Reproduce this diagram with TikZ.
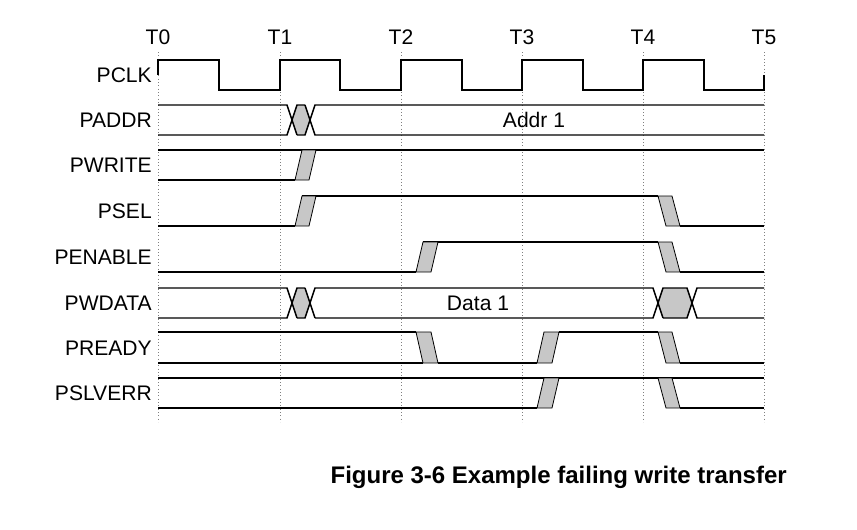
\documentclass[tikz,border=0pt]{standalone}
\usepackage{fontspec}
\setmainfont{Liberation Sans}
\begin{document}
\begin{tikzpicture}[x=0.75pt,y=-0.75pt,
  sig/.style={line width=1.1pt,line join=miter},
  tr/.style={fill=black!22,draw=black,line width=0.6pt},
  lab/.style={anchor=east,inner sep=0pt,font=\fontsize{15.8}{18}\selectfont},
  tl/.style={font=\fontsize{15.8}{18}\selectfont},
  grid/.style={dotted,black!50,line width=0.5pt}]
\useasboundingbox (0,0) rectangle (857,529);
% grid
\foreach \i/\x in {0/158,1/280,2/401,3/522,4/643,5/764}{
  \node[tl] (t\i) at (\x,37) {T\i};
  \coordinate (ga\i) at (\x,52);
  \coordinate (gb\i) at (\x,422);
  \draw[grid] (ga\i) -- (gb\i);
}
% labels
\node[lab] (lclk) at (152,75) {PCLK};
\node[lab] (ladd) at (152,120) {PADDR};
\node[lab] (lwr) at (152,165) {PWRITE};
\node[lab] (lsel) at (152,211) {PSEL};
\node[lab] (len) at (152,257) {PENABLE};
\node[lab] (lwd) at (152,303) {PWDATA};
\node[lab] (lrdy) at (152,348) {PREADY};
\node[lab] (lerr) at (152,393) {PSLVERR};
% PCLK
\draw[sig] (158,75) -- (158,60) -- (219,60) -- (219,90) -- (280,90) -- (280,60) -- (340,60) -- (340,90) -- (401,90) -- (401,60) -- (462,60) -- (462,90) -- (522,90) -- (522,60) -- (583,60) -- (583,90) -- (643,90) -- (643,60) -- (704,60) -- (704,90) -- (764,90) -- (764,75);
% PADDR
\fill[black!22] (292,120) -- (297,105) -- (305,105) -- (310,120) -- (305,135) -- (297,135) -- cycle;
\draw[sig] (158,105) -- (287,105) -- (297,135) (158,135) -- (287,135) -- (297,105) -- (305,105)
  (297,135) -- (305,135) -- (315,105) -- (764,105) (305,105) -- (315,135) -- (764,135);
\node[tl] (addr) at (534,120) {Addr 1};
% PWRITE
\draw[sig] (158,150) -- (764,150) (158,180) -- (295,180);
\draw[tr] (295,180) -- (309,180) -- (316,150) -- (302,150) -- cycle;
% PSEL
\draw[sig] (158,226) -- (295,226) (302,196) -- (658,196) (680,226) -- (764,226);
\draw[tr] (295,226) -- (309,226) -- (316,196) -- (302,196) -- cycle;
\draw[tr] (658,196) -- (672,196) -- (680,226) -- (666,226) -- cycle;
% PENABLE
\draw[sig] (158,272) -- (416,272) (423,242) -- (658,242) (680,272) -- (764,272);
\draw[tr] (416,272) -- (431,272) -- (438,242) -- (423,242) -- cycle;
\draw[tr] (658,242) -- (672,242) -- (680,272) -- (666,272) -- cycle;
% PWDATA
\fill[black!22] (292,303) -- (297,288) -- (305,288) -- (310,303) -- (305,318) -- (297,318) -- cycle;
\fill[black!22] (658,303) -- (663,288) -- (687,288) -- (692,303) -- (687,318) -- (663,318) -- cycle;
\draw[sig] (158,288) -- (287,288) -- (297,318) (158,318) -- (287,318) -- (297,288) -- (305,288)
  (297,318) -- (305,318) -- (315,288) -- (653,288) -- (663,318) (315,318) -- (305,288)
  (315,318) -- (653,318) -- (663,288) -- (687,288) -- (697,318) -- (764,318)
  (663,318) -- (687,318) -- (697,288) -- (764,288);
\node[tl] (data) at (478,303) {Data 1};
% PREADY
\draw[sig] (158,332) -- (416,332) (158,363) -- (423,363) (438,363) -- (537,363)
  (559,332) -- (658,332) (680,363) -- (764,363);
\draw[tr] (416,332) -- (431,332) -- (438,363) -- (423,363) -- cycle;
\draw[tr] (537,363) -- (552,363) -- (559,332) -- (544,332) -- cycle;
\draw[tr] (658,332) -- (672,332) -- (680,363) -- (666,363) -- cycle;
% PSLVERR
\draw[sig] (158,378) -- (764,378) (158,408) -- (537,408) (680,408) -- (764,408);
\draw[tr] (537,408) -- (552,408) -- (559,378) -- (544,378) -- cycle;
\draw[tr] (658,378) -- (672,378) -- (680,408) -- (666,408) -- cycle;
% caption
\node[anchor=east,inner sep=0pt,font=\fontsize{18}{21}\bfseries\selectfont] (cap) at (787,477) {Figure 3-6 Example failing write transfer};
\end{tikzpicture}
\end{document}
